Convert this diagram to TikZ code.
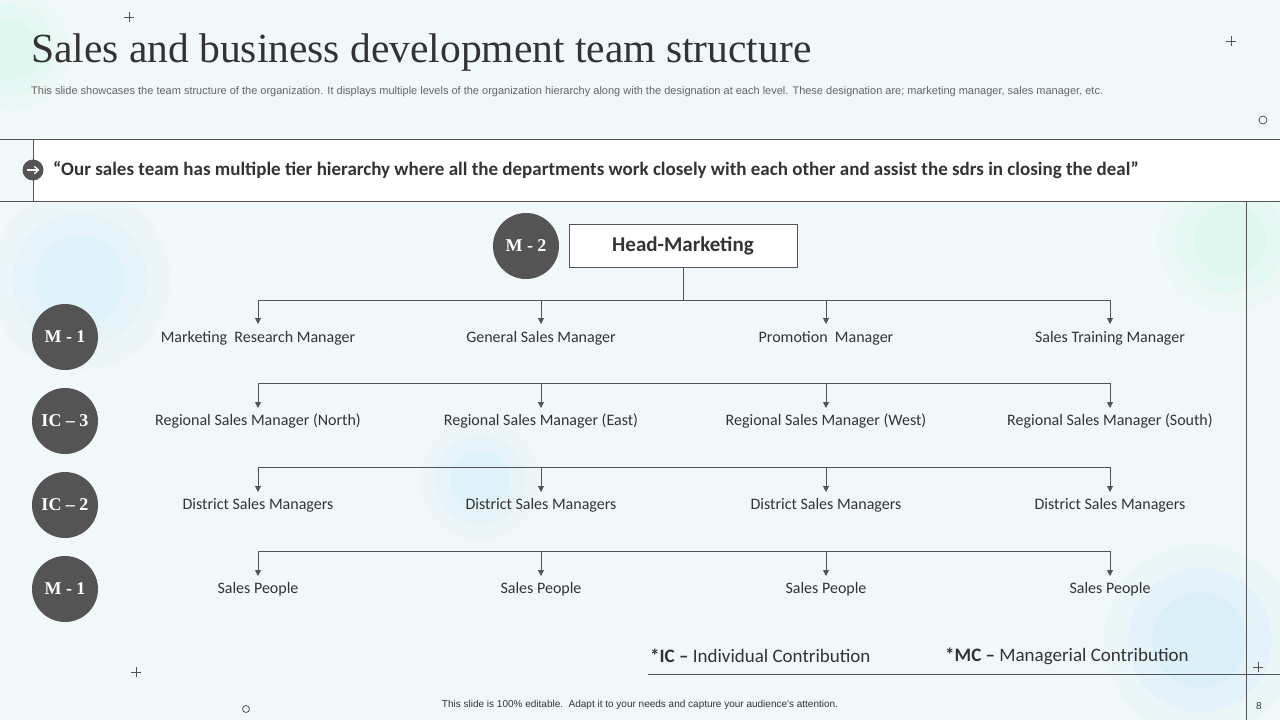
\documentclass[tikz,border=0pt]{standalone}
\usepackage{fontspec}
\setmainfont{Carlito}
\newfontfamily\serif{Liberation Serif}
\newfontfamily\arial{Liberation Sans}
\usetikzlibrary{arrows.meta}
\definecolor{bg}{HTML}{F1F8F9}
\definecolor{dk}{HTML}{545454}
\definecolor{tx}{HTML}{333333}
\tikzset{
 lvl/.style={circle,fill=dk,minimum size=66pt,inner sep=0pt,text=white,font=\serif\bfseries\fontsize{18}{18}\selectfont},
 role/.style={font=\fontsize{16}{16}\selectfont,text=tx,inner sep=1pt},
 conn/.style={draw=dk,line width=0.9pt},
 arr/.style={conn,-{Triangle[length=6pt,width=6pt]}},
 deco/.style={draw=dk,line width=0.8pt}
}
\begin{document}
\begin{tikzpicture}[x=1pt,y=-1pt]
\useasboundingbox (0,0) rectangle (1280,720);
\fill[bg] (0,0) rectangle (1280,720);
\foreach \r/\o in {60/0.08,45/0.1,30/0.12} {
 \fill[green!50!cyan!30,opacity=\o] (10,50) circle (\r);
 \fill[cyan!30,opacity=\o] (80,280) circle (\r*1.5);
 \fill[green!50!cyan!30,opacity=\o] (1230,240) circle (\r*1.2);
 \fill[cyan!35,opacity=\o] (1200,640) circle (\r*1.6);
 \fill[cyan!30,opacity=\o] (480,480) circle (\r);
}
% title
\node[anchor=west,font=\serif\fontsize{41.5}{41.5}\selectfont,text=tx,inner sep=0] (title) at (31,53) {Sales and business development team structure};
\node[anchor=west,font=\arial\fontsize{11}{11}\selectfont,text=dk!90,inner sep=0] (sub) at (31,92) {This slide showcases the team structure of the organization. It displays multiple levels of the organization hierarchy along with the designation at each level. These designation are; marketing manager, sales manager, etc.};
% quote band
\fill[white] (33,139) rectangle (1280,201);
\draw[conn,line width=0.6pt] (0,139) -- (1280,139);
\draw[conn,line width=0.6pt] (0,201) -- (1280,201);
\draw[conn,line width=0.6pt] (33,139) -- (33,201);
\node[circle,fill=dk,minimum size=21pt,inner sep=0] (qc) at (33,170) {};
\draw[white,line width=1.4pt] (27,170) -- (37,170);
\draw[white,line width=1.2pt,line cap=round] (34.5,166.5) -- (38.5,170) -- (34.5,173.5);
\node[anchor=west,font=\bfseries\fontsize{19}{19}\selectfont,text=tx,inner sep=0] (quote) at (53,170) {“Our sales team has multiple tier hierarchy where all the departments work closely with each other and assist the sdrs in closing the deal”};
% frame lines
\draw[conn,line width=0.6pt] (1246,201) -- (1246,720);
\draw[conn,line width=0.6pt] (648,674) -- (1280,674);
% head
\node[lvl] (m2) at (526,246) {M - 2};
\node[draw=dk,fill=white,minimum width=228pt,minimum height=43pt,font=\bfseries\fontsize{21}{21}\selectfont,text=tx] (head) at (683,246) {Head-Marketing};
% level circles
\node[lvl] (c1) at (65,337) {M - 1};
\node[lvl] (c2) at (65,421) {IC – 3};
\node[lvl] (c3) at (65,505) {IC – 2};
\node[lvl] (c4) at (65,589) {M - 1};
% roles
\foreach \n/\x/\t in {a1/258/Marketing\ \ Research Manager,a2/541/General Sales Manager,a3/826/Promotion\ \ Manager,a4/1110/Sales Training Manager}
 \node[role] (\n) at (\x,338) {\t};
\foreach \n/\x/\t in {b1/258/Regional Sales Manager (North),b2/541/Regional Sales Manager (East),b3/826/Regional Sales Manager (West),b4/1110/Regional Sales Manager (South)}
 \node[role] (\n) at (\x,421) {\t};
\foreach \n/\x in {d1/258,d2/541,d3/826,d4/1110}
 \node[role] (\n) at (\x,505) {District Sales Managers};
\foreach \n/\x in {e1/258,e2/541,e3/826,e4/1110}
 \node[role] (\n) at (\x,589) {Sales People};
% connectors
\coordinate (h1) at (683,300);
\draw[conn] (head.south) -- (h1);
\draw[conn] (258,300) -- (1110,300);
\foreach \n/\x in {a1/258,a2/541,a3/826,a4/1110} \draw[arr] (\x,300) -- (\x,324);
\draw[conn] (258,383) -- (1110,383);
\foreach \n/\x in {b1/258,b2/541,b3/826,b4/1110} \draw[arr] (\x,383) -- (\x,408);
\draw[conn] (258,467) -- (1110,467);
\foreach \n/\x in {d1/258,d2/541,d3/826,d4/1110} \draw[arr] (\x,467) -- (\x,492);
\draw[conn] (258,551) -- (1110,551);
\foreach \n/\x in {e1/258,e2/541,e3/826,e4/1110} \draw[arr] (\x,551) -- (\x,576);
% legend
\node[anchor=west,font=\fontsize{19}{19}\selectfont,text=tx,inner sep=0] (l1) at (650,656) {\textbf{*IC –} Individual Contribution};
\node[anchor=west,font=\fontsize{19}{19}\selectfont,text=tx,inner sep=0] (l2) at (945,656) {\textbf{*MC –} Managerial Contribution};
% footer
\node[font=\arial\fontsize{10}{10}\selectfont,text=tx] (foot) at (640,705) {This slide is 100\% editable.\ \ Adapt it to your needs and capture your audience's attention.};
\node[font=\arial\fontsize{10}{10}\selectfont,text=tx] (pg) at (1259,706) {8};
% decorations
\foreach \x/\y in {129/17,1231/41,136/672,1258/667} {\draw[deco] (\x-5,\y) -- (\x+5,\y); \draw[deco] (\x,\y-5) -- (\x,\y+5);}
\draw[deco] (1263,120) circle (4);
\draw[deco] (246,709) circle (3.5);
\end{tikzpicture}
\end{document}
